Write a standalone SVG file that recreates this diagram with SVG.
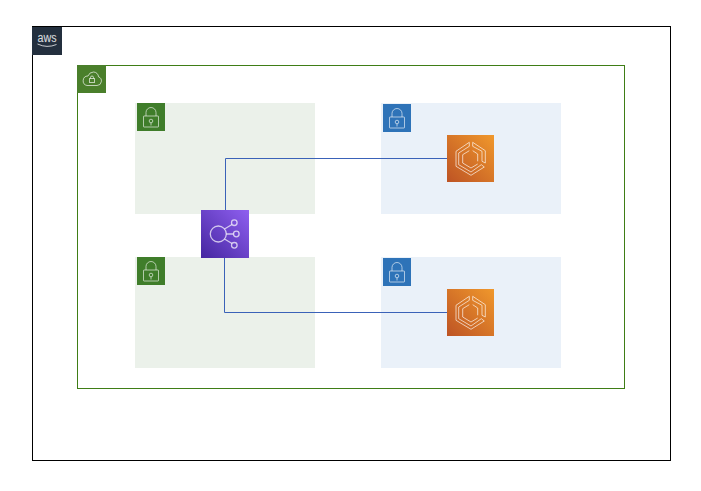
<svg xmlns="http://www.w3.org/2000/svg" width="701" height="491" viewBox="0 0 701 491">
<defs>
<linearGradient id="gP" x1="0" y1="1" x2="1" y2="0"><stop offset="0" stop-color="#4526a0"/><stop offset="1" stop-color="#8f5ff0"/></linearGradient>
<linearGradient id="gO" x1="0" y1="1" x2="1" y2="0"><stop offset="0" stop-color="#bd5324"/><stop offset="1" stop-color="#f0982c"/></linearGradient>
<g id="lock" fill="none" stroke="#fff" stroke-opacity=".6" stroke-width="1">
<path d="M9 13V9.500a5 5 0 0 1 10 0V13"/>
<rect x="6.500" y="13" width="15" height="11" rx=".5"/>
<circle cx="14" cy="18" r="1.800"/><path d="M14 19.800v2.700"/>
</g>
<g id="ecs" fill="none" stroke="#fff" stroke-opacity=".65" stroke-linejoin="round">
<path d="M22.300 7.300 9 16.300v15L24 40.300 37.300 32 34.300 29.700 24 37 11.700 29.700V18L22.300 11.300z"/>
<path d="M25.700 7.300 38.300 15.700V28L35 26.300V16.300L25.700 11.300z"/>
<path d="M22.300 15.700 15.700 19.700V28L24 33 30.700 29"/>
<path d="M25.700 15.700 30.700 19V26.300"/>
</g>
</defs>
<style>
.pub{fill:#ebf1ea}.priv{fill:#eaf1f9}
.conn{fill:none;stroke:#3a62b8;stroke-width:1}
</style>
<rect width="701" height="491" fill="#fff"/>
<g id="aws-cloud">
<rect x="32.500" y="26.500" width="638" height="434" fill="#fff" stroke="#000" stroke-width="1"/>
<rect x="32" y="27" width="30" height="28" fill="#232f3e"/>
<text x="47" y="41.500" font-family="'Liberation Sans',Arial,sans-serif" font-size="12" fill="#fff" fill-opacity=".8" stroke="#fff" stroke-opacity=".3" stroke-width=".3" text-anchor="middle" textLength="19" lengthAdjust="spacingAndGlyphs">aws</text>
<path d="M37.500 44q9.500 4.500 19 .5" fill="none" stroke="#fff" stroke-opacity=".75" stroke-width="1"/>
</g>
<g id="vpc">
<rect x="77.500" y="65.500" width="547" height="323" fill="none" stroke="#3f7d16" stroke-width="1"/>
<rect x="77" y="65" width="29" height="28" fill="#4a7f2b"/>
<path d="M87 85.500h10a4.500 4.500 0 0 0 1.500-8.700 5 5 0 0 0-5-4.800 6 6 0 0 0-5.500 4A4.800 4.800 0 0 0 87 85.500z" fill="none" stroke="#fff" stroke-opacity=".65" stroke-width="1"/>
<rect x="89.500" y="78.500" width="5" height="4" fill="none" stroke="#fff" stroke-opacity=".65"/>
<path d="M90.500 78.500v-1a1.500 1.500 0 0 1 3 0v1" fill="none" stroke="#fff" stroke-opacity=".65"/>
</g>
<g id="subnet-public-1"><rect class="pub" x="135" y="103" width="180" height="111"/><rect x="137" y="103" width="28" height="28" fill="#3f7d2a"/><use href="#lock" x="137" y="103"/></g>
<g id="subnet-public-2"><rect class="pub" x="135" y="257" width="180" height="111"/><rect x="137" y="257" width="28" height="28" fill="#3f7d2a"/><use href="#lock" x="137" y="257"/></g>
<g id="subnet-private-1"><rect class="priv" x="381" y="103" width="180" height="111"/><rect x="383" y="104" width="28" height="28" fill="#2e73b8"/><use href="#lock" x="383" y="104"/></g>
<g id="subnet-private-2"><rect class="priv" x="381" y="257" width="180" height="111"/><rect x="383" y="258" width="28" height="28" fill="#2e73b8"/><use href="#lock" x="383" y="258"/></g>
<g id="connectors">
<path class="conn" d="M225.500 210V158.500H447"/>
<path class="conn" d="M224.500 258V312.500H447"/>
</g>
<g id="elb">
<rect x="201" y="210" width="48" height="48" fill="url(#gP)"/>
<g fill="none" stroke="#fff" stroke-opacity=".7" stroke-width="1.300">
<circle cx="218.300" cy="234" r="8"/>
<circle cx="234.300" cy="222.700" r="2.800"/><circle cx="236.300" cy="234" r="2.800"/><circle cx="234.300" cy="245.300" r="2.800"/>
<path d="M224.500 229l7.500-4.500M226.300 234h7.200M224.500 239l7.500 4.500"/>
</g>
</g>
<g id="ecs-1"><rect x="447" y="135" width="47" height="47" fill="url(#gO)"/><use href="#ecs" x="447" y="135"/></g>
<g id="ecs-2"><rect x="447" y="289" width="47" height="47" fill="url(#gO)"/><use href="#ecs" x="447" y="289"/></g>
</svg>
